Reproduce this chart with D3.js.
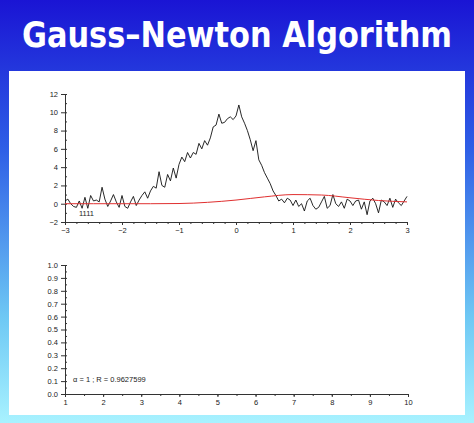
<!DOCTYPE html>
<html><head><meta charset="utf-8">
<script src="https://cdn.jsdelivr.net/npm/d3@7"></script>
<style>body{margin:0;}svg{display:block;}</style>
</head><body>
<script>
// data values, x = -3 + 0.05*i
var dataY = [0.3,0.5,0,-0.3,-0.4,0.3,-0.5,0.7,-0.5,0.9,0.3,0.4,0.2,1.8,0.5,-0.3,0.3,1.0,0.2,-0.4,0.9,
  -0.3,-0.5,0.2,0.8,-0.2,0.4,0.9,1.3,0.6,1.4,1.9,1.7,3.5,2.0,1.8,3.2,2.5,3.9,2.8,4.3,
  5.1,4.6,5.6,5.0,5.6,5.4,6.6,6.0,6.9,6.4,7.2,8.4,8.6,9.8,8.8,8.9,9.3,9.5,9.2,9.6,
  10.8,9.5,8.8,8.0,7.0,5.8,6.9,4.8,4.2,3.4,2.8,2.2,1.4,0.9,0.3,0.5,0.1,0.6,0.4,-0.2,
  0.4,-0.3,0.0,-0.8,0.3,0.6,-0.2,-0.6,-0.4,0.2,0.8,-0.5,-0.2,1.0,0.0,-0.3,0.2,-0.5,0.5,0.3,
  -0.2,0.3,0.4,-0.6,0.2,-1.2,0.3,0.6,0.0,-1.0,0.4,0.2,-0.2,0.6,-0.4,0.5,0.1,-0.2,0.3,0.8];
var fitX = [-3,-2.5,-2,-1.5,-1,-0.5,0,0.5,1,1.5,2,2.5,3];
var fitY = [0,0,0,0,0.02,0.15,0.4,0.75,1.0,0.95,0.65,0.35,0.2];
var topXTicks = [-3,-2,-1,0,1,2,3];
var topYTicks = [-2,0,2,4,6,8,10,12];
var botXTicks = [1,2,3,4,5,6,7,8,9,10];
var botYTicks = [0,0.1,0.2,0.3,0.4,0.5,0.6,0.7,0.8,0.9,1.0];

var W = 474, H = 423;
var svg = d3.select("body").append("svg").attr("width", W).attr("height", H);
var defs = svg.append("defs");
var g = defs.append("linearGradient").attr("id","bg").attr("x1",0).attr("y1",0).attr("x2",0).attr("y2",1);
g.append("stop").attr("offset","0").attr("stop-color","#1a14d4");
g.append("stop").attr("offset","0.35").attr("stop-color","#2e5ee6");
g.append("stop").attr("offset","0.75").attr("stop-color","#6ec8f4");
g.append("stop").attr("offset","1").attr("stop-color","#a8f2ff");
svg.append("rect").attr("width",W).attr("height",H).attr("fill","url(#bg)");

svg.append("text").attr("x",237).attr("y",47).attr("text-anchor","middle")
  .attr("font-family","'DejaVu Sans Condensed','Liberation Sans Narrow',sans-serif")
  .attr("font-weight","bold").attr("font-size",36).attr("fill","#fff")
  .attr("textLength",430).attr("lengthAdjust","spacingAndGlyphs")
  .text("Gauss\u2013Newton Algorithm");

svg.append("rect").attr("x",9).attr("y",71).attr("width",456).attr("height",344).attr("fill","#fff");

var font = "'Liberation Sans',Arial,sans-serif";

function styleAxis(sel){
  sel.selectAll("path,line").attr("stroke","#333");
  sel.selectAll("text").attr("font-family",font).attr("font-size",7.5).attr("fill","#222");
}

// top plot
var x1 = d3.scaleLinear().domain([-3,3]).range([65,407]);
var y1 = d3.scaleLinear().domain([-2,12]).range([222,94]);
var ax = svg.append("g").attr("transform","translate(0,222)")
  .call(d3.axisBottom(x1).tickValues(topXTicks).tickSize(3).tickSizeOuter(0).tickFormat(d3.format("d")));
styleAxis(ax);
svg.append("g").attr("transform","translate(0,222)")
  .call(d3.axisBottom(x1).tickValues(d3.range(-3,3.01,0.2)).tickSize(2).tickFormat("")).call(styleAxis)
  .select("path").remove();
var ay = svg.append("g").attr("transform","translate(65,0)")
  .call(d3.axisLeft(y1).tickValues(topYTicks).tickSize(4).tickSizeOuter(0));
styleAxis(ay);
svg.append("g").attr("transform","translate(65,0)")
  .call(d3.axisRight(y1).tickValues(d3.range(-2,12.01,1)).tickSize(2).tickFormat("")).call(styleAxis)
  .select("path").remove();

var pts = dataY.map(function(v,i){ return [-3+0.05*i, v]; });
svg.append("path").datum(pts).attr("fill","none").attr("stroke","#111").attr("stroke-width",0.9)
  .attr("d", d3.line().x(function(d){return x1(d[0]);}).y(function(d){return y1(d[1]);}));
svg.append("path").datum(fitX.map(function(v,i){return [v,fitY[i]];})).attr("fill","none")
  .attr("stroke","#e03030").attr("stroke-width",1)
  .attr("d", d3.line().curve(d3.curveMonotoneX).x(function(d){return x1(d[0]);}).y(function(d){return y1(d[1]);}));
svg.append("text").attr("x",79).attr("y",216).attr("font-family",font).attr("font-size",7.5).attr("fill","#222").text("1111");

// bottom plot
var x2 = d3.scaleLinear().domain([1,10]).range([65,408]);
var y2 = d3.scaleLinear().domain([0,1]).range([394,265]);
var bx = svg.append("g").attr("transform","translate(0,394)")
  .call(d3.axisBottom(x2).tickValues(botXTicks).tickSize(3).tickSizeOuter(0));
styleAxis(bx);
svg.append("g").attr("transform","translate(0,394)")
  .call(d3.axisBottom(x2).tickValues(d3.range(1,10.01,0.5)).tickSize(2).tickFormat("")).call(styleAxis)
  .select("path").remove();
var by = svg.append("g").attr("transform","translate(65,0)")
  .call(d3.axisLeft(y2).tickValues(botYTicks).tickSize(4).tickSizeOuter(0).tickFormat(d3.format(".1f")));
styleAxis(by);
svg.append("g").attr("transform","translate(65,0)")
  .call(d3.axisRight(y2).tickValues(d3.range(0,1.001,0.05)).tickSize(2).tickFormat("")).call(styleAxis)
  .select("path").remove();
svg.append("text").attr("x",73).attr("y",382).attr("font-family",font).attr("font-size",7.5).attr("fill","#222")
  .text("\u03b1 = 1 ; R = 0.9627599");
</script>
</body></html>
